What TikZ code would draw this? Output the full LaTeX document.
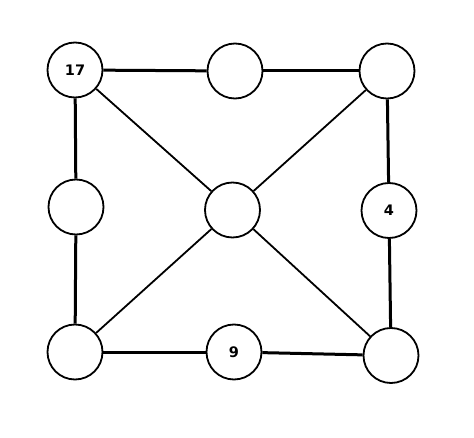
\documentclass[tikz,border=0pt]{standalone}
\usepackage{fontspec}
\setmainfont{DejaVu Sans}
\begin{document}
\begin{tikzpicture}[x=1pt,y=1pt,
  vtx/.style={circle,draw=black,line width=1.8pt,minimum size=55pt,inner sep=0pt,fill=white,font=\bfseries\fontsize{14.5}{16}\selectfont},
  side/.style={line width=3pt},
  diag/.style={line width=1.8pt}]
\useasboundingbox (0,0) rectangle (474,437);
\node[vtx] (tl) at (75,367) {17};
\node[vtx] (tm) at (235,366) {};
\node[vtx] (tr) at (387,366) {};
\node[vtx] (ml) at (76,230) {};
\node[vtx] (c) at (232.5,227) {};
\node[vtx] (mr) at (389,226.5) {4};
\node[vtx] (bl) at (75,85) {};
\node[vtx] (bm) at (234,85) {9};
\node[vtx] (br) at (391,81.5) {};
\draw[side] (tl) -- (tm);
\draw[side] (tm) -- (tr);
\draw[side] (tl) -- (ml);
\draw[side] (ml) -- (bl);
\draw[side] (tr) -- (mr);
\draw[side] (mr) -- (br);
\draw[side] (bl) -- (bm);
\draw[side] (bm) -- (br);
\draw[diag] (tl) -- (c);
\draw[diag] (tr) -- (c);
\draw[diag] (bl) -- (c);
\draw[diag] (br) -- (c);
\end{tikzpicture}
\end{document}
